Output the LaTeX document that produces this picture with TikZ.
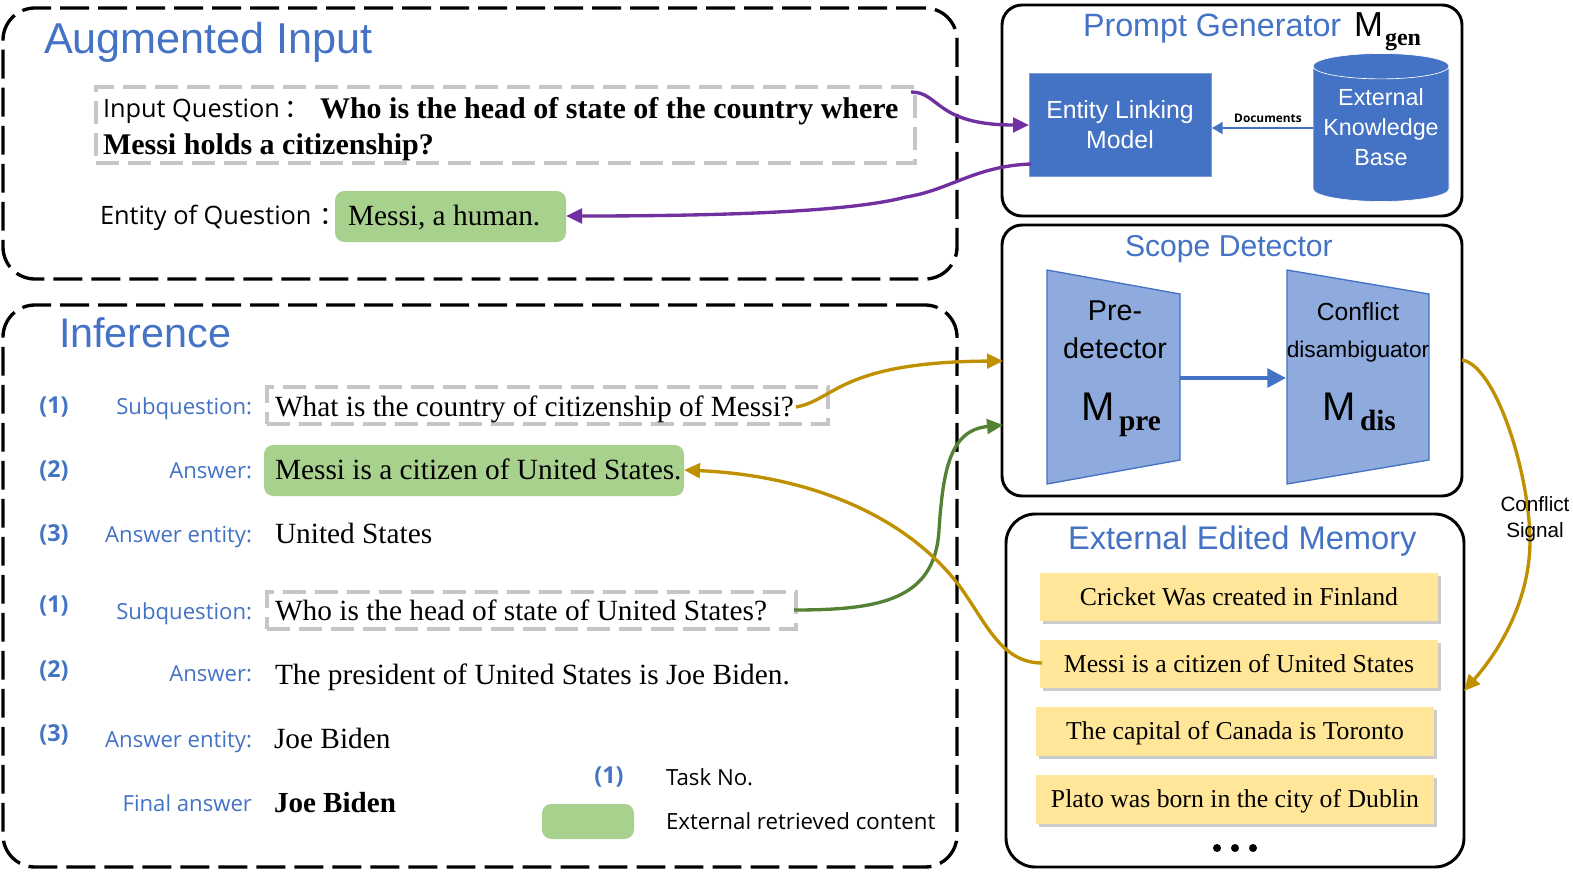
\documentclass[tikz,border=0pt]{standalone}
\usepackage{fontspec}
\setmainfont{Liberation Serif}
\newfontfamily\opn{Open Sans}
\newfontfamily\lib{Liberation Sans}
\newfontfamily\cjk{Noto Sans CJK SC}
\usetikzlibrary{arrows.meta,shapes.geometric,shadows}
\definecolor{hblue}{HTML}{4472C4}
\definecolor{tblue}{HTML}{8FAADC}
\definecolor{ggreen}{HTML}{A9D18E}
\definecolor{yel}{HTML}{FFE699}
\definecolor{gold}{HTML}{BF9000}
\definecolor{purp}{HTML}{7030A0}
\definecolor{lgreen}{HTML}{548235}
\definecolor{dgray}{HTML}{C6C6C6}
\tikzset{
  base/.style={inner sep=0pt,outer sep=0pt},
  txt/.style={base,anchor=base west},
  txtr/.style={base,anchor=base east},
  txtc/.style={base,anchor=base},
  ser/.style={font=\fontsize{22}{26}\selectfont},
  serb/.style={font=\fontsize{22.5}{26}\selectfont\bfseries},
  lab/.style={txtr,text=hblue,font=\opn\fontsize{16.6}{20}\selectfont},
  blk/.style={font=\opn\fontsize{16.7}{20}\selectfont},
  blkb/.style={font=\opn\fontsize{19}{22}\selectfont},
  num/.style={base,text=hblue,font=\opn\bfseries\fontsize{17.5}{20}\selectfont},
  bighead/.style={txt,text=hblue,font=\lib\fontsize{31}{36}\selectfont},
  midhead/.style={txt,text=hblue,font=\lib\fontsize{24.5}{28}\selectfont},
  outerbox/.style={base,draw=black,line width=2.5pt,dash pattern=on 21.7pt off 6.8pt,rounded corners=24pt},
  solidbox/.style={base,draw=black,line width=2.2pt,rounded corners=15pt},
  qbox/.style={base,draw=dgray,line width=2.3pt,dash pattern=on 17.5pt off 6.5pt},
  gbox/.style={base,fill=ggreen,rounded corners=7pt},
  ybox/.style={base,fill=yel,text height=14pt,text depth=2pt,font=\fontsize{19.3}{22}\selectfont,drop shadow={shadow xshift=2pt,shadow yshift=-2.5pt,fill=black!50,opacity=.4}},
  conn/.style={line width=2.5pt,-{Triangle[length=12pt,width=11pt]}},
  mblue/.style={base,fill=hblue,draw=hblue!70!white,line width=.6pt,text=white,align=center,font=\lib\fontsize{18.6}{23}\selectfont},
  trap/.style={fill=tblue,draw=hblue,line width=1pt},
  ms/.style={txt,font=\lib\fontsize{30}{34}\selectfont},
  subb/.style={txt,font=\bfseries\fontsize{22}{26}\selectfont},
  kbfont/.style={align=center,font=\lib\fontsize{17.5}{22.5}\selectfont}
}
\newcommand{\bx}[7]{%
  \pgfmathsetmacro\cxx{(#3+#5)/2}\pgfmathsetmacro\cyy{(#4+#6)/2}%
  \pgfmathsetmacro\wdd{(#5-#3)*.75}\pgfmathsetmacro\htt{(#6-#4)*.75}%
  \node[#1,minimum width=\wdd pt,minimum height=\htt pt] (#2) at (\cxx,\cyy) {#7};}
\begin{document}
\begin{tikzpicture}[x=.75pt,y=-.75pt]
\useasboundingbox (0,0) rectangle (1573,871);
\fill[white] (0,0) rectangle (1573,871);
% big boxes
\bx{outerbox}{augbox}{3}{8}{957}{279}{}
\bx{outerbox}{infbox}{3}{305}{957}{867}{}
\bx{solidbox}{genbox}{1002}{5}{1462}{216}{}
\bx{solidbox}{scopebox}{1002}{225}{1462}{496}{}
\bx{solidbox,rounded corners=22pt}{membox}{1006}{514}{1464}{867}{}
% augmented input
\node[bighead,font=\lib\fontsize{32.4}{36}\selectfont] (auth) at (44,53) {Augmented Input};
\bx{qbox}{qq}{96}{87}{915}{163}{}
\node[txt,blkb] (ql) at (103,117) {Input Question\,{\cjk ：}};
\node[txt,serb] (q1t) at (320,118) {Who is the head of state of the country where};
\node[txt,serb] (q2t) at (103,154) {Messi holds a citizenship?};
\node[txt,blkb] (el) at (100,224) {Entity of Question\,\,{\cjk ：}};
\bx{gbox}{eg}{335}{191}{566}{242}{}
\node[txt,ser] (egt) at (348,225) {Messi, a human.};
% inference
\node[bighead] (inft) at (59,347) {Inference};
\node[num] (n1) at (54,407) {(1)};
\node[num] (n2) at (54,471) {(2)};
\node[num] (n3) at (54,535) {(3)};
\node[num] (n4) at (54,606) {(1)};
\node[num] (n5) at (54,671) {(2)};
\node[num] (n6) at (54,735) {(3)};
\node[lab] (l1) at (252,414) {Subquestion:};
\node[lab] (l2) at (252,478) {Answer:};
\node[lab] (l3) at (252,542) {Answer entity:};
\node[lab] (l4) at (252,619) {Subquestion:};
\node[lab] (l5) at (252,681) {Answer:};
\node[lab] (l6) at (252,747) {Answer entity:};
\node[lab] (l7) at (252,811) {Final answer};
\bx{qbox}{s1}{267}{387}{828}{424}{}
\bx{gbox}{a1}{264}{445}{684}{496}{}
\bx{qbox}{s2}{267}{592}{796}{629}{}
\node[txt,ser] (t1) at (275,416) {What is the country of citizenship of Messi?};
\node[txt,ser] (t2) at (275,479) {Messi is a citizen of United States.};
\node[txt,ser] (t3) at (275,543) {United States};
\node[txt,ser] (t4) at (275,620) {Who is the head of state of United States?};
\node[txt,ser] (t5) at (275,684) {The president of United States is Joe Biden.};
\node[txt,ser] (t6) at (274,748) {Joe Biden};
\node[txt,font=\fontsize{21.8}{26}\selectfont\bfseries] (t7) at (274,812) {Joe Biden};
\node[num] (ln) at (609,777) {(1)};
\node[txt,blk] (ltask) at (666,785) {Task No.};
\bx{gbox}{lg}{542}{804}{634}{839}{}
\node[txt,blk] (lext) at (666,829) {External retrieved content};
% prompt generator
\node[midhead,font=\lib\fontsize{24.2}{28}\selectfont] (pgt) at (1083,36) {Prompt Generator};
\node[txt,font=\lib\fontsize{26}{28}\selectfont] (pgm) at (1354,36) {M};
\node[txt,font=\bfseries\fontsize{18}{22}\selectfont] (pgs) at (1385,45) {gen};
\bx{mblue}{elm}{1029}{73}{1211}{176}{Entity Linking\\Model}
\node[base,cylinder,shape border rotate=90,shape aspect=.22,draw=white,line width=.5pt,fill=hblue,kbfont,minimum width=102pt,minimum height=111pt] (kb) at (1381,134) {\phantom{External}\\\phantom{Knowledge}\\\phantom{Base}};
\node[base,text=white,kbfont] (kbt) at (1381,127) {External\\Knowledge\\Base};
\node[txtc,font=\opn\bfseries\fontsize{8.9}{12}\selectfont] (doc) at (1268,122) {Documents};
\coordinate (kbw) at (1313,128);
\coordinate (elme) at (1212,128);
\draw[hblue,line width=1.2pt,-{Triangle[length=8pt,width=9pt]}] (kbw) -- (elme);
% scope detector
\node[midhead,font=\lib\fontsize{22.6}{28}\selectfont] (sdt) at (1125,256) {Scope Detector};
\coordinate (pa) at (1047,270); \coordinate (pb) at (1180,294);
\coordinate (pc) at (1180,460); \coordinate (pd) at (1047,484);
\coordinate (da) at (1287,270); \coordinate (db) at (1429,294);
\coordinate (dc) at (1429,460); \coordinate (dd) at (1287,484);
\draw[trap] (pa) -- (pb) -- (pc) -- (pd) -- cycle;
\draw[trap] (da) -- (db) -- (dc) -- (dd) -- cycle;
\coordinate (pr) at (1180,378); \coordinate (dl) at (1286,378);
\draw[hblue,line width=3pt,-{Triangle[length=14pt,width=14pt]}] (pr) -- (dl);
\node[txtc,font=\lib\fontsize{21.5}{26}\selectfont] (pt1) at (1115,320) {Pre-};
\node[txtc,font=\lib\fontsize{21.5}{26}\selectfont] (pt2) at (1115,358) {detector};
\node[ms] (pm) at (1081,420) {M};
\node[subb] (ps) at (1119,430) {pre};
\node[txtc,font=\lib\fontsize{18.5}{22}\selectfont] (dt1) at (1358,320) {Conflict};
\node[txtc,font=\lib\fontsize{17}{22}\selectfont] (dt2) at (1358,357) {disambiguator};
\node[ms] (dm) at (1322,420) {M};
\node[subb] (ds) at (1360,430) {dis};
% memory
\node[midhead] (emt) at (1068,549) {External Edited Memory};
\bx{ybox}{y1}{1040}{573}{1438}{621}{Cricket Was created in Finland}
\bx{ybox}{y2}{1040}{640}{1438}{688}{Messi is a citizen of United States}
\bx{ybox}{y3}{1036}{707}{1434}{756}{The capital of Canada is Toronto}
\bx{ybox}{y4}{1036}{775}{1434}{824}{Plato was born in the city of Dublin}
\node[base,circle,fill=black,minimum size=6pt] (d1) at (1217,848) {};
\node[base,circle,fill=black,minimum size=6pt] (d2) at (1235,848) {};
\node[base,circle,fill=black,minimum size=6pt] (d3) at (1253,848) {};
% connectors
\coordinate (c1s) at (911,92); \coordinate (c1e) at (1029,125);
\draw[purp,conn] (c1s) .. controls (940,92) and (935,125) .. (c1e);
\coordinate (c2s) at (1031,164); \coordinate (c2m) at (906,197); \coordinate (c2e) at (566,216);
\draw[purp,conn] (c2s) .. controls (975,166) and (950,190) .. (c2m) .. controls (850,212) and (720,216) .. (c2e);
\coordinate (c3s) at (796,407); \coordinate (c3e) at (1003,361);
\draw[gold,conn] (c3s) .. controls (835,400) and (840,362) .. (c3e);
\coordinate (c4s) at (794,610); \coordinate (c4m) at (939,530); \coordinate (c4e) at (1003,425);
\draw[lgreen,conn] (c4s) .. controls (880,610) and (935,600) .. (c4m) .. controls (943,470) and (950,430) .. (c4e);
\coordinate (c5s) at (1042,663); \coordinate (c5m) at (958,584); \coordinate (c5e) at (684,470);
\draw[gold,conn] (c5s) .. controls (1000,663) and (985,620) .. (c5m) .. controls (900,510) and (800,475) .. (c5e);
\coordinate (c6s) at (1462,360); \coordinate (c6m) at (1530,540); \coordinate (c6e) at (1464,691);
\draw[gold,conn] (c6s) .. controls (1495,365) and (1529,470) .. (c6m) .. controls (1530,600) and (1500,650) .. (c6e);
\node[txtc,font=\lib\fontsize{15.5}{18}\selectfont] (cs1) at (1535,511) {Conflict};
\node[txtc,font=\lib\fontsize{15.5}{18}\selectfont] (cs2) at (1535,537) {Signal};
\end{tikzpicture}
\end{document}
